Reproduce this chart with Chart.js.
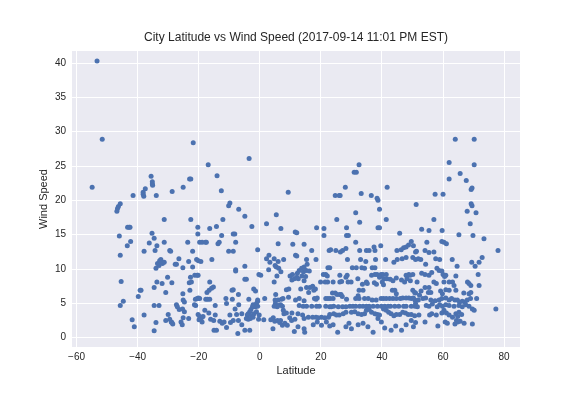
<!DOCTYPE html>
<html>
<head>
<meta charset="utf-8">
<script src="https://cdn.jsdelivr.net/npm/chart.js@4.4.1/dist/chart.umd.min.js"></script>
<style>
  body { margin: 0; background: #ffffff; }
  #wind_chart { display: block; }
</style>
</head>
<body>
<canvas id="wind_chart" width="576" height="396"></canvas>
<script>
// city latitude (deg) and wind speed (mph), same order in both arrays
const latitude = [
  -53.3,-51.6,-54.9,-41.5,-38.2,-38.2,-38.0,-37.5,-35.6,-35.2,-35.2,-35.1,-33.9,-28.7,
  -21.8,-16.9,-3.5,-14.0,-23.0,-22.6,-25.1,-12.6,9.3,
  32.5,30.9,31.6,28.0,41.7,24.7,26.0,26.3,33.2,36.5,38.4,
  64.0,70.2,62.0,70.2,65.6,62.0,67.6,69.2,69.5,57.4,60.0,
  -45.7,-46.3,-46.6,-46.8,-46.0,-43.3,-42.8,-42.5,-43.4,-42.3,-45.7,-37.9,-35.3,-34.6,-36.2,
  -31.3,-33.7,-34.3,-31.3,-29.5,-29.2,-32.4,-34.0,-33.5,-31.9,-31.3,-32.8,-33.0,-27.7,
  -45.4,-33.7,-32.0,-30.2,-28.8,-39.2,-38.9,-34.6,-30.8,-39.8,-44.7,-45.7,-34.6,-33.0,
  -30.0,-37.9,-41.8,-41.1,-34.0,-34.6,-30.8,-29.5,-29.0,-28.8,-28.5,
  -9.8,-10.2,-6.9,-4.9,-22.6,-12.1,-2.6,-14.2,-16.4,-20.3,-20.3,-8.7,-8.2,-12.5,
  5.4,2.2,6.9,11.6,-23.6,-19.7,-18.9,-17.8,-17.5,-13.7,-13.3,-7.9,6.0,10.8,
  -22.0,-10.2,-8.7,-0.7,11.7,-26.5,-23.3,-20.7,-20.1,-19.3,-15.7,
  2.2,3.0,3.3,4.7,6.0,7.8,5.0,5.4,6.2,6.9,2.9,-27.3,-25.2,-22.0,-7.9,-7.9,-4.9,
  -21.3,-20.5,-20.2,-22.7,-23.1,-22.4,-16.4,-4.9,-4.4,-0.3,0.3,5.6,4.7,9.9,10.7,10.5,11.3,
  -15.2,-15.8,-16.6,-17.3,-22.9,-9.1,-8.7,-2.0,-1.4,8.7,9.5,-25.2,-7.0,5.2,
  -25.1,-24.7,-21.1,-20.5,-20.1,-19.7,-17.7,-17.1,-16.4,-11.1,-9.0,-3.6,-0.7,-0.7,1.6,5.0,6.0,7.1,7.6,9.4,11.7,
  -27.3,-27.0,-26.4,-21.0,-21.4,-14.6,-10.9,-6.9,-2.2,-1.5,-2.4,-1.1,-0.7,
  -2.9,-3.3,-3.8,-4.1,-2.7,-1.9,-1.1,-4.4,-3.8,-3.1,-2.2,
  5.1,6.0,6.8,7.4,5.7,4.7,7.7,7.9,8.7,10.5,-25.3,-24.7,-23.3,-25.1,-25.8,-25.4,
  -20.2,-19.7,-19.1,-18.9,-19.9,-18.6,-18.0,-16.7,-16.1,-15.1,-14.6,-15.0,-14.2,-13.1,-12.3,-11.7,
  -10.9,-9.6,-8.7,-8.1,-7.6,-7.0,-5.9,-7.2,-4.9,-3.3,-5.9,-9.8,-0.2,-0.4,1.3,3.6,
  4.4,4.9,5.8,4.3,6.5,7.4,8.2,9.0,6.8,9.8,10.4,11.3,11.5,
  38.7,39.2,51.2,31.4,32.7,25.2,41.4,18.6,21.0,21.0,28.4,28.4,29.0,38.7,39.2,45.8,12.1,14.5,31.4,
  22.7,23.2,24.9,26.4,27.1,28.2,32.7,34.9,35.8,37.7,37.4,39.6,44.9,46.3,47.1,47.9,48.7,49.6,50.3,51.0,17.0,
  12.1,15.3,18.4,28.7,33.0,34.7,37.9,41.2,43.9,45.0,46.6,47.9,50.1,
  15.5,14.5,13.7,12.9,12.3,14.3,15.2,16.2,12.1,12.6,13.8,15.0,14.5,
  20.8,21.6,22.1,22.3,22.9,26.2,28.2,28.6,30.3,31.6,33.4,34.3,36.8,37.7,
  36.6,37.7,38.4,39.7,40.3,39.2,40.6,41.4,41.6,42.7,32.1,
  19.9,21.4,22.2,24.0,26.2,26.8,28.9,29.9,34.9,35.2,33.6,37.5,38.2,40.1,40.5,
  47.9,48.8,49.2,50.1,47.4,48.2,46.4,49.3,44.7,43.6,
  13.4,15.3,16.4,17.3,18.2,17.7,16.0,32.5,33.8,32.2,23.8,24.7,25.3,26.2,26.6,27.0,
  43.4,44.2,44.7,50.1,50.7,
  12.9,14.5,17.9,18.8,18.4,21.6,22.3,23.0,24.0,28.4,31.4,32.5,34.3,35.5,
  36.8,38.1,39.7,40.5,41.4,42.5,43.6,44.7,46.0,46.8,47.9,48.8,49.6,50.3,50.8,
  12.9,14.2,15.3,17.0,18.6,19.5,21.6,22.9,23.4,24.2,25.7,27.1,28.2,29.5,30.5,31.4,
  32.7,33.8,34.9,35.8,37.1,38.5,39.8,40.9,42.0,42.8,44.2,45.5,47.1,47.9,49.6,50.8,
  12.5,14.0,14.5,15.9,17.3,18.4,19.1,20.2,21.3,22.5,22.9,24.2,25.1,26.0,27.3,28.2,
  30.0,31.1,32.2,33.3,34.3,34.9,35.8,36.6,37.7,38.5,39.2,40.5,41.4,42.2,43.0,43.9,
  44.7,45.8,46.8,47.7,48.6,49.6,50.7,14.5,14.7,12.5,17.5,18.8,20.2,21.8,22.9,24.0,
  25.5,28.2,29.2,30.0,32.2,33.8,35.4,37.1,38.7,39.8,40.9,43.0,44.5,46.4,47.9,49.6,50.3,
  69.2,69.5,67.9,70.8,57.0,68.9,53.0,55.4,59.7,65.2,69.8,73.4,54.7,59.6,60.3,61.1,
  51.3,54.1,55.4,57.0,78.0,51.0,51.9,52.7,57.6,58.9,63.0,69.4,71.8,72.8,54.3,64.6,70.5,
  58.0,58.7,59.6,53.0,54.1,55.4,56.3,60.0,60.9,60.5,64.2,71.5,51.5,57.0,57.8,60.3,
  62.0,63.1,63.6,68.0,68.5,69.1,71.8,51.0,52.3,53.4,52.8,55.2,56.0,54.1,55.4,
  59.2,59.8,60.9,62.0,64.2,66.8,68.5,69.1,51.9,51.0,51.6,54.3,56.0,57.4,
  58.7,59.6,60.9,62.0,62.8,63.9,64.7,65.4,66.3,67.2,67.9,69.0,71.0,
  54.5,55.4,56.5,58.1,58.9,59.8,60.9,62.0,63.6,65.2,66.3,67.4,68.5,69.6,70.2,77.3,
  52.1,55.6,56.3,57.8,59.6,60.3,61.1,62.0,63.1,64.2,65.2,66.1,64.8,64.4,65.6,
  54.1,51.0,58.3,60.7,61.4,63.9,64.8,66.9,69.6
];

const windSpeed = [
  40.3,28.9,21.9,20.7,21.2,20.9,20.6,21.7,23.5,22.7,22.4,22.2,20.7,21.3,
  28.4,25.2,26.1,23.6,23.1,23.1,21.9,21.4,21.2,
  25.2,24.1,24.1,21.9,21.9,20.7,20.7,20.7,21.0,20.7,20.3,
  28.9,28.9,25.5,25.2,23.9,23.1,22.9,21.6,21.8,20.9,20.9,
  19.5,19.1,18.8,18.4,14.8,16.1,16.1,16.1,13.4,14.0,12.0,12.6,15.2,14.5,13.8,
  17.2,13.4,12.7,13.9,12.7,12.6,11.4,10.1,10.8,10.8,11.0,11.2,10.5,10.7,
  8.2,8.1,7.9,8.8,8.0,6.9,6.9,7.3,6.6,6.0,5.3,4.7,4.7,4.7,
  3.4,3.3,2.6,1.6,2.2,1.0,2.5,2.7,2.3,2.2,2.0,
  19.6,19.2,18.7,17.7,17.2,17.2,16.2,16.2,15.9,16.1,15.1,15.1,15.1,14.9,
  17.9,16.6,15.9,15.4,13.9,13.9,13.9,13.9,13.9,13.7,13.9,13.9,13.7,13.6,
  12.6,12.6,12.6,12.8,12.0,11.5,11.1,11.4,11.2,11.1,11.4,
  11.5,12.0,11.0,11.5,11.1,11.4,10.5,10.3,10.1,9.6,9.9,10.7,10.2,10.3,9.9,9.7,10.4,
  9.1,9.1,9.1,8.8,8.0,8.1,8.1,8.5,8.5,9.2,9.1,9.0,8.1,9.0,9.2,8.4,8.6,
  7.4,7.2,6.9,6.6,6.9,6.9,7.0,7.1,6.8,7.0,7.1,6.4,6.3,6.3,
  5.5,5.2,5.6,5.7,5.8,5.7,5.6,5.6,5.6,5.7,5.6,5.6,5.3,5.5,5.7,5.5,5.5,5.6,5.7,5.9,5.5,
  4.8,4.5,4.1,4.7,4.8,4.7,5.0,4.8,4.8,4.5,4.5,5.0,4.6,
  4.1,3.8,3.5,3.3,3.2,3.5,3.8,2.8,2.7,2.8,3.0,
  5.0,4.7,4.8,4.6,4.5,4.6,4.0,3.5,3.6,3.6,4.2,3.8,2.8,2.9,2.3,1.9,
  3.4,3.1,2.9,2.3,2.6,3.1,4.0,3.6,2.7,2.5,3.3,1.1,1.1,2.4,2.1,2.3,
  1.5,2.2,2.5,4.2,3.4,2.5,1.9,0.6,1.1,1.1,3.5,3.3,3.3,2.7,2.6,2.6,
  2.9,2.4,2.5,1.3,2.2,1.8,2.1,1.8,2.5,2.9,2.5,0.9,2.7,
  20.0,18.7,19.4,18.2,16.8,17.2,17.2,16.0,15.9,14.9,16.0,14.9,14.9,16.0,16.0,15.2,15.3,13.6,13.9,
  12.7,12.8,12.7,12.5,12.7,13.0,12.7,12.7,12.7,12.7,13.2,13.4,12.7,12.8,13.1,13.2,13.5,14.0,13.4,12.5,12.7,
  11.9,11.4,11.4,11.4,11.4,11.1,11.4,11.4,11.0,11.4,11.5,11.7,11.7,
  10.7,10.3,10.1,9.8,9.4,9.6,9.8,9.7,8.8,8.6,9.0,8.9,8.3,
  9.2,9.2,9.0,10.2,10.2,9.1,8.8,9.1,10.2,10.2,10.2,10.1,10.2,10.2,
  9.1,9.2,9.2,9.2,9.2,8.8,8.6,9.2,8.6,8.5,8.6,
  8.1,8.1,8.1,8.1,8.1,8.2,8.1,8.1,8.1,7.9,7.8,8.0,7.8,8.1,7.7,
  9.1,9.2,9.1,9.2,8.1,8.6,8.4,8.3,8.7,8.3,
  7.1,7.3,7.3,7.5,7.1,6.9,6.6,6.9,6.9,6.1,6.5,6.5,6.3,6.3,6.3,6.0,
  6.9,6.9,6.4,6.9,6.6,
  5.7,5.4,5.7,5.8,5.6,5.7,5.7,5.7,5.7,5.6,5.7,5.7,5.7,5.7,
  5.5,5.5,5.7,5.7,5.7,5.7,5.7,5.7,5.7,5.8,5.8,5.8,5.7,5.8,5.5,
  4.7,4.6,4.6,4.6,4.6,4.6,4.6,4.5,4.5,4.6,4.5,4.5,4.5,4.6,4.6,4.6,
  4.6,4.6,4.6,4.6,4.6,4.6,4.6,4.6,4.6,4.6,4.6,4.6,4.6,4.6,4.6,4.6,
  3.5,3.3,2.8,3.0,3.0,3.0,2.9,3.0,2.9,3.0,3.4,3.5,3.3,3.3,3.5,3.7,
  3.7,3.8,3.5,3.4,3.5,4.0,4.1,3.7,3.5,3.4,3.3,4.2,4.0,3.7,3.5,3.2,
  3.4,3.4,3.7,3.6,3.4,3.4,3.2,1.3,0.8,1.6,1.9,2.3,1.8,2.3,1.7,1.9,
  0.8,1.6,2.1,1.3,1.9,2.1,1.6,0.8,2.8,2.3,1.4,1.1,1.7,1.1,1.9,2.5,1.6,
  19.5,19.2,18.4,18.2,17.2,16.6,15.8,15.6,15.6,15.0,14.9,14.4,13.9,14.0,13.9,13.7,
  12.6,12.7,12.4,12.5,12.7,11.4,11.5,11.4,11.5,11.4,11.4,11.0,11.0,11.7,10.7,10.4,10.4,
  10.1,9.8,9.7,9.4,9.2,9.1,9.5,9.2,9.1,8.9,9.0,9.2,8.1,8.1,7.9,8.1,
  8.1,8.1,7.6,8.1,7.9,7.6,7.6,6.5,6.2,5.7,6.8,6.6,6.6,7.3,7.3,
  6.8,6.4,7.0,6.9,6.9,6.5,6.4,6.6,5.5,5.0,4.5,5.8,5.5,5.4,
  5.5,5.7,5.8,5.5,5.7,5.5,5.5,5.2,5.3,5.2,5.5,5.7,5.7,
  4.7,4.6,4.9,4.5,4.8,4.6,4.8,4.7,4.6,4.7,4.5,4.8,4.6,4.2,4.0,4.2,
  3.3,3.3,3.5,3.3,3.6,4.0,3.6,3.3,3.0,3.5,3.7,3.4,3.1,2.5,2.4,
  2.3,2.2,1.7,2.3,2.1,2.0,2.3,2.1,2.0
];

const xTicks = [-60, -40, -20, 0, 20, 40, 60, 80];
const yTicks = [0, 5, 10, 15, 20, 25, 30, 35, 40];

if (latitude.length !== windSpeed.length) {
  throw new Error('length mismatch ' + latitude.length + ' vs ' + windSpeed.length);
}

const points = latitude.map((lat, i) => ({ x: lat, y: windSpeed[i] }));

const textColor = '#262626';
const fontName = "'Liberation Sans', Arial, sans-serif";
const minusSign = v => String(v).replace('-', '\u2212');

// seaborn style grey panel behind the grid, title centred over the panel
const panelBackground = {
  id: 'panelBackground',
  afterLayout(chart) {
    if (chart.titleBlock) {
      chart.titleBlock.left = chart.chartArea.left;
      chart.titleBlock.right = chart.chartArea.right;
    }
  },
  beforeDraw(chart) {
    const { ctx, chartArea: a } = chart;
    ctx.save();
    ctx.fillStyle = '#ffffff';
    ctx.fillRect(0, 0, chart.width, chart.height);
    ctx.fillStyle = '#EAEAF2';
    ctx.fillRect(a.left, a.top, a.right - a.left, a.bottom - a.top);
    ctx.restore();
  }
};

new Chart(document.getElementById('wind_chart'), {
  type: 'scatter',
  data: {
    datasets: [{
      data: points,
      backgroundColor: '#4C72B0',
      borderWidth: 0,
      pointRadius: 2.5,
      pointHoverRadius: 2.5
    }]
  },
  options: {
    responsive: false,
    animation: false,
    devicePixelRatio: 1,
    layout: { padding: { left: 0, right: 56, top: 0, bottom: 0 } },
    plugins: {
      legend: { display: false },
      tooltip: { enabled: false },
      title: {
        display: true,
        text: 'City Latitude vs Wind Speed (2017-09-14 11:01 PM EST)',
        color: textColor,
        font: { family: fontName, size: 12, weight: 'normal' },
        padding: { top: 30, bottom: 6.6 }
      }
    },
    scales: {
      x: {
        type: 'linear',
        min: -61.5,
        max: 85.2,
        afterBuildTicks: s => { s.ticks = xTicks.map(v => ({ value: v })); },
        afterFit: s => { s.height = 49; },
        grid: { color: '#ffffff', lineWidth: 1, drawTicks: false },
        border: { display: false },
        ticks: {
          color: textColor,
          font: { family: fontName, size: 10 },
          padding: 4,
          maxRotation: 0,
          callback: minusSign
        },
        title: {
          display: true,
          text: 'Latitude',
          color: textColor,
          font: { family: fontName, size: 11 },
          padding: { top: 0, bottom: 18.4 }
        }
      },
      y: {
        type: 'linear',
        min: -1.35,
        max: 41.75,
        afterBuildTicks: s => { s.ticks = yTicks.map(v => ({ value: v })); },
        afterFit: s => { s.width = 72; },
        grid: { color: '#ffffff', lineWidth: 1, drawTicks: false },
        border: { display: false },
        ticks: {
          color: textColor,
          font: { family: fontName, size: 10 },
          padding: 6,
          callback: minusSign
        },
        title: {
          display: true,
          text: 'Wind Speed',
          color: textColor,
          font: { family: fontName, size: 11 },
          padding: { top: 37.4, bottom: 0 }
        }
      }
    }
  },
  plugins: [panelBackground]
});
</script>
</body>
</html>
